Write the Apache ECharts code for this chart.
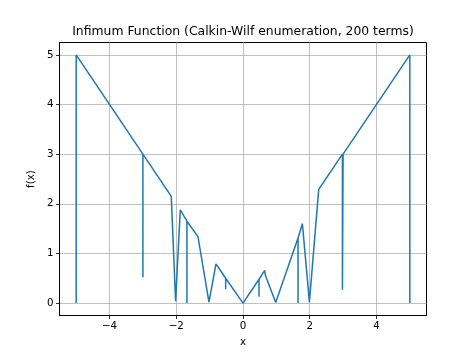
<!DOCTYPE html>
<html>
<head>
<meta charset="utf-8">
<script src="https://cdn.jsdelivr.net/npm/echarts@6/dist/echarts.min.js"></script>
<style>
  html, body { margin: 0; padding: 0; background: #fff; }
  #chart { width: 474px; height: 355px; }
</style>
</head>
<body>
<div id="chart"></div>
<script>
// points of the plotted line, in drawing order
const xs = [-5, -5, -3, -3, -3, -2.15, -2.02, -1.88, -1.68, -1.68, -1.68, -1.35, -1.02, -0.81, -0.52, -0.52, -0.52, 0,
            0.48, 0.48, 0.48, 0.65, 0.67, 0.67, 0.98, 1.65, 1.65, 1.65, 1.78, 1.99, 2.27, 2.98, 2.98, 3.0, 5, 5];
const ys = [0, 5, 3, 0.52, 3, 2.15, 0.04, 1.88, 1.65, 0, 1.65, 1.34, 0.02, 0.79, 0.5, 0.28, 0.5, 0,
            0.48, 0.13, 0.48, 0.66, 0.64, 0.56, 0.01, 1.31, 0, 1.31, 1.6, 0.02, 2.29, 3.0, 0.27, 3.0, 5, 0];
const xTicks = [-4, -2, 0, 2, 4];
const yTicks = [0, 1, 2, 3, 4, 5];

const chart = echarts.init(document.getElementById('chart'));
const font = 'DejaVu Sans';
const fmt = v => String(v).replace('-', '\u2212');

const lineData = xs.map((x, i) => [x, ys[i]]);

chart.setOption({
    animation: false,
    // title drawn as a graphic so it centres over the plot area
    graphic: [{
        type: 'text',
        x: 243, y: 32,
        style: {
            text: 'Infimum Function (Calkin-Wilf enumeration, 200 terms)',
            fontFamily: font, fontSize: 12.4, fill: '#000',
            align: 'center', verticalAlign: 'middle'
        }
    }],
    grid: {
        left: 59.5, right: 47.5, top: 42.5, bottom: 39.5,
        show: true, borderColor: '#000', borderWidth: 1, backgroundColor: 'transparent'
    },
    xAxis: {
        type: 'value', min: -5.5, max: 5.5,
        name: 'x', nameLocation: 'middle', nameGap: 21.5,
        nameTextStyle: { fontFamily: font, fontSize: 10.3, color: '#000' },
        axisLine: { onZero: false, lineStyle: { color: '#000', width: 1 } },
        axisTick: { show: true, length: 3.5, customValues: xTicks, lineStyle: { color: '#000', width: 0.8 } },
        axisLabel: { customValues: xTicks, margin: 6, fontFamily: font, fontSize: 10.3, color: '#000', formatter: fmt },
        splitLine: { show: true, lineStyle: { color: '#b0b0b0', width: 0.8 } }
    },
    yAxis: {
        type: 'value', min: -0.25, max: 5.25,
        name: 'f(x)', nameLocation: 'middle', nameGap: 19, nameRotate: 90,
        nameTextStyle: { fontFamily: font, fontSize: 10.3, color: '#000' },
        axisLine: { onZero: false, lineStyle: { color: '#000', width: 1 } },
        axisTick: { show: true, length: 3.5, customValues: yTicks, lineStyle: { color: '#000', width: 0.8 } },
        axisLabel: { customValues: yTicks, margin: 6, fontFamily: font, fontSize: 10.3, color: '#000', formatter: fmt },
        splitLine: { show: true, lineStyle: { color: '#b0b0b0', width: 0.8 } }
    },
    series: [{
        type: 'line',
        data: lineData,
        showSymbol: false,
        clip: true,
        lineStyle: { color: '#1f77b4', width: 1.5 },
        itemStyle: { color: '#1f77b4' }
    }]
});
</script>
</body>
</html>
